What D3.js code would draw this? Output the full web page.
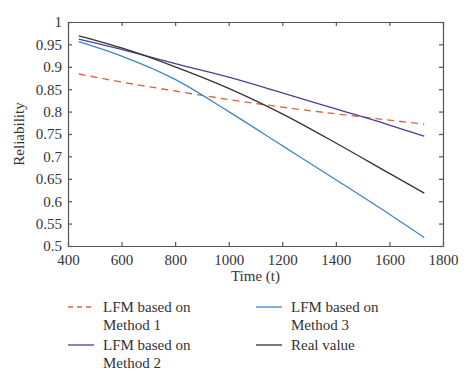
<!DOCTYPE html>
<html>
<head>
<meta charset="utf-8">
<script src="https://cdn.jsdelivr.net/npm/d3@7"></script>
<style>
  body { margin: 0; background: #fff; }
  svg text { font-family: "Liberation Serif", "Times New Roman", serif; fill: #333; }
</style>
</head>
<body>
<div id="chart"></div>
<script>
// Values
const times = [440, 600, 800, 1000, 1200, 1400, 1600, 1730];
const method1 = [0.884, 0.866, 0.846, 0.827, 0.810, 0.795, 0.781, 0.772];
const method2 = [0.962, 0.939, 0.907, 0.877, 0.842, 0.806, 0.770, 0.745];
const method3 = [0.956, 0.924, 0.872, 0.800, 0.724, 0.648, 0.571, 0.519];
const realValue = [0.969, 0.942, 0.900, 0.852, 0.795, 0.730, 0.662, 0.618];

const xTicks = [400, 600, 800, 1000, 1200, 1400, 1600, 1800];
const yTicks = [0.5, 0.55, 0.6, 0.65, 0.7, 0.75, 0.8, 0.85, 0.9, 0.95, 1];

const series = [
    { name: ["LFM based on", "Method 1"], values: method1, color: "#d9643b", dash: "7,5" },
    { name: ["LFM based on", "Method 2"], values: method2, color: "#4a3f96", dash: null },
    { name: ["LFM based on", "Method 3"], values: method3, color: "#3f86c8", dash: null },
    { name: ["Real value"], values: realValue, color: "#333333", dash: null }
];

const W = 474, H = 384;
const margin = { top: 22, right: 31, bottom: 138, left: 68 };
const width = W - margin.left - margin.right;
const height = H - margin.top - margin.bottom;

const svg = d3.select("#chart")
    .append("svg")
    .attr("width", W)
    .attr("height", H);

const g = svg.append("g")
    .attr("transform", `translate(${margin.left},${margin.top})`);

const x = d3.scaleLinear().domain([400, 1800]).range([0, width]);
const y = d3.scaleLinear().domain([0.5, 1]).range([height, 0]);

const fmtY = d => String(+d.toFixed(2));
const fmtX = d => String(d);

// Axes, MATLAB style with ticks pointing inwards on all sides
const axisColor = "#555";
function styleAxis(sel) {
    sel.select(".domain").attr("stroke", axisColor).attr("stroke-width", 1.2);
    sel.selectAll(".tick line").attr("stroke", axisColor).attr("stroke-width", 1.2);
    sel.selectAll("text").style("font-size", "15px").attr("fill", "#333");
}

g.append("g")
    .attr("transform", `translate(0,${height})`)
    .call(d3.axisBottom(x).tickValues(xTicks).tickSizeInner(-4).tickSizeOuter(0).tickPadding(8).tickFormat(fmtX))
    .call(styleAxis);

g.append("g")
    .call(d3.axisTop(x).tickValues(xTicks).tickSizeInner(-4).tickSizeOuter(0).tickFormat(""))
    .call(styleAxis);

g.append("g")
    .call(d3.axisLeft(y).tickValues(yTicks).tickSizeInner(-4).tickSizeOuter(0).tickPadding(6).tickFormat(fmtY))
    .call(styleAxis);

g.append("g")
    .attr("transform", `translate(${width},0)`)
    .call(d3.axisRight(y).tickValues(yTicks).tickSizeInner(-4).tickSizeOuter(0).tickFormat(""))
    .call(styleAxis);

// Lines
const line = d3.line()
    .x((d, i) => x(times[i]))
    .y(d => y(d))
    .curve(d3.curveMonotoneX);

g.append("g")
    .selectAll("path")
    .data(series)
    .enter()
    .append("path")
    .attr("d", d => line(d.values))
    .attr("fill", "none")
    .attr("stroke", d => d.color)
    .attr("stroke-width", 1.3)
    .attr("stroke-dasharray", d => d.dash);

// Axis labels
g.append("text")
    .attr("x", width / 2)
    .attr("y", height + 35)
    .attr("text-anchor", "middle")
    .style("font-size", "15px")
    .text("Time (t)");

g.append("text")
    .attr("transform", "rotate(-90)")
    .attr("x", -height / 2)
    .attr("y", -44)
    .attr("text-anchor", "middle")
    .style("font-size", "15px")
    .text("Reliability");

// Legend: two columns, two rows
const legendPos = [[68, 307], [68, 345], [256, 307], [256, 345]];
const legend = svg.append("g");
series.forEach((s, i) => {
    const [lx, ly] = legendPos[i];
    legend.append("line")
        .attr("x1", lx).attr("x2", lx + 26)
        .attr("y1", ly).attr("y2", ly)
        .attr("stroke", s.color)
        .attr("stroke-width", 1.3)
        .attr("stroke-dasharray", s.dash ? "5,4" : null);
    s.name.forEach((t, j) => {
        legend.append("text")
            .attr("x", lx + 35)
            .attr("y", ly + 5 + j * 17.5)
            .style("font-size", "15px")
            .text(t);
    });
});
</script>
</body>
</html>
